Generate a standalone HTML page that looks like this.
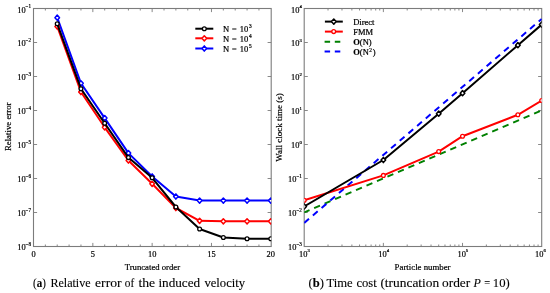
<!DOCTYPE html><html><head><meta charset="utf-8"><style>html,body{margin:0;padding:0;background:#fff;}svg{display:block;will-change:transform;filter:blur(0.3px);}text{font-family:"Liberation Serif",serif;fill:#000;}.t{stroke:#000;stroke-width:0.2px;}.c{stroke:#000;stroke-width:0.1px;}.l{stroke:#000;stroke-width:0.22px;}</style></head><body>
<svg width="550" height="293" viewBox="0 0 550 293">
<defs><clipPath id="cl"><rect x="33.50" y="8.50" width="237.70" height="238.00"/></clipPath>
<clipPath id="cr"><rect x="304.20" y="8.50" width="237.50" height="238.00"/></clipPath></defs>
<rect width="550" height="293" fill="#fff"/>
<path d="M45.37 246.50V244.50M45.37 8.50V10.50M57.23 246.50V244.50M57.23 8.50V10.50M69.09 246.50V244.50M69.09 8.50V10.50M80.96 246.50V244.50M80.96 8.50V10.50M92.83 246.50V242.90M92.83 8.50V12.10M104.69 246.50V244.50M104.69 8.50V10.50M116.56 246.50V244.50M116.56 8.50V10.50M128.42 246.50V244.50M128.42 8.50V10.50M140.28 246.50V244.50M140.28 8.50V10.50M152.15 246.50V242.90M152.15 8.50V12.10M164.02 246.50V244.50M164.02 8.50V10.50M175.88 246.50V244.50M175.88 8.50V10.50M187.75 246.50V244.50M187.75 8.50V10.50M199.61 246.50V244.50M199.61 8.50V10.50M211.47 246.50V242.90M211.47 8.50V12.10M223.34 246.50V244.50M223.34 8.50V10.50M235.21 246.50V244.50M235.21 8.50V10.50M247.07 246.50V244.50M247.07 8.50V10.50M258.94 246.50V244.50M258.94 8.50V10.50M33.50 42.50H37.10M271.20 42.50H267.60M33.50 76.50H37.10M271.20 76.50H267.60M33.50 110.50H37.10M271.20 110.50H267.60M33.50 144.50H37.10M271.20 144.50H267.60M33.50 178.50H37.10M271.20 178.50H267.60M33.50 212.50H37.10M271.20 212.50H267.60" stroke="#7c7c7c" stroke-width="0.9" fill="none"/>
<rect x="33.50" y="8.50" width="237.70" height="238.00" fill="none" stroke="#7c7c7c" stroke-width="1.1"/>
<text class="t" x="31" y="13.00" text-anchor="end" font-size="8.4">10<tspan font-size="5.1" dy="-4.7">&#8722;1</tspan></text>
<text class="t" x="31" y="46.30" text-anchor="end" font-size="8.4">10<tspan font-size="5.1" dy="-4.7">&#8722;2</tspan></text>
<text class="t" x="31" y="80.30" text-anchor="end" font-size="8.4">10<tspan font-size="5.1" dy="-4.7">&#8722;3</tspan></text>
<text class="t" x="31" y="114.30" text-anchor="end" font-size="8.4">10<tspan font-size="5.1" dy="-4.7">&#8722;4</tspan></text>
<text class="t" x="31" y="148.30" text-anchor="end" font-size="8.4">10<tspan font-size="5.1" dy="-4.7">&#8722;5</tspan></text>
<text class="t" x="31" y="182.30" text-anchor="end" font-size="8.4">10<tspan font-size="5.1" dy="-4.7">&#8722;6</tspan></text>
<text class="t" x="31" y="216.30" text-anchor="end" font-size="8.4">10<tspan font-size="5.1" dy="-4.7">&#8722;7</tspan></text>
<text class="t" x="31" y="250.30" text-anchor="end" font-size="8.4">10<tspan font-size="5.1" dy="-4.7">&#8722;8</tspan></text>
<text class="t" x="33.50" y="257.0" text-anchor="middle" font-size="8.4">0</text>
<text class="t" x="92.83" y="257.0" text-anchor="middle" font-size="8.4">5</text>
<text class="t" x="152.15" y="257.0" text-anchor="middle" font-size="8.4">10</text>
<text class="t" x="211.47" y="257.0" text-anchor="middle" font-size="8.4">15</text>
<text class="t" x="270.80" y="257.0" text-anchor="middle" font-size="8.4">20</text>
<text class="t" x="152.4" y="269.7" text-anchor="middle" font-size="8.7">Truncated order</text>
<text class="t" transform="translate(10.7 126.8) rotate(-90)" text-anchor="middle" font-size="8.8">Relative error</text>
<g clip-path="url(#cl)">
<polyline points="57.23,17.70 80.96,83.30 104.69,118.10 128.42,153.10 152.15,176.50 175.88,196.50 199.61,200.60 223.34,200.60 247.07,200.60 270.80,200.60" fill="none" stroke="#0000ff" stroke-width="2" stroke-linejoin="round"/>
<path d="M57.23 15.10L59.53 17.70L57.23 20.30L54.93 17.70Z" fill="#fff" stroke="#0000ff" stroke-width="1.5" stroke-linejoin="round"/>
<path d="M80.96 80.70L83.26 83.30L80.96 85.90L78.66 83.30Z" fill="#fff" stroke="#0000ff" stroke-width="1.5" stroke-linejoin="round"/>
<path d="M104.69 115.50L106.99 118.10L104.69 120.70L102.39 118.10Z" fill="#fff" stroke="#0000ff" stroke-width="1.5" stroke-linejoin="round"/>
<path d="M128.42 150.50L130.72 153.10L128.42 155.70L126.12 153.10Z" fill="#fff" stroke="#0000ff" stroke-width="1.5" stroke-linejoin="round"/>
<path d="M152.15 173.90L154.45 176.50L152.15 179.10L149.85 176.50Z" fill="#fff" stroke="#0000ff" stroke-width="1.5" stroke-linejoin="round"/>
<path d="M175.88 193.90L178.18 196.50L175.88 199.10L173.58 196.50Z" fill="#fff" stroke="#0000ff" stroke-width="1.5" stroke-linejoin="round"/>
<path d="M199.61 198.00L201.91 200.60L199.61 203.20L197.31 200.60Z" fill="#fff" stroke="#0000ff" stroke-width="1.5" stroke-linejoin="round"/>
<path d="M223.34 198.00L225.64 200.60L223.34 203.20L221.04 200.60Z" fill="#fff" stroke="#0000ff" stroke-width="1.5" stroke-linejoin="round"/>
<path d="M247.07 198.00L249.37 200.60L247.07 203.20L244.77 200.60Z" fill="#fff" stroke="#0000ff" stroke-width="1.5" stroke-linejoin="round"/>
<path d="M270.80 198.00L273.10 200.60L270.80 203.20L268.50 200.60Z" fill="#fff" stroke="#0000ff" stroke-width="1.5" stroke-linejoin="round"/>
<polyline points="57.23,26.50 80.96,92.00 104.69,127.30 128.42,160.50 152.15,183.80 175.88,208.00 199.61,220.80 223.34,221.30 247.07,221.30 270.80,221.30" fill="none" stroke="#ff0000" stroke-width="2" stroke-linejoin="round"/>
<path d="M57.23 23.90L59.53 26.50L57.23 29.10L54.93 26.50Z" fill="#fff" stroke="#ff0000" stroke-width="1.5" stroke-linejoin="round"/>
<path d="M80.96 89.40L83.26 92.00L80.96 94.60L78.66 92.00Z" fill="#fff" stroke="#ff0000" stroke-width="1.5" stroke-linejoin="round"/>
<path d="M104.69 124.70L106.99 127.30L104.69 129.90L102.39 127.30Z" fill="#fff" stroke="#ff0000" stroke-width="1.5" stroke-linejoin="round"/>
<path d="M128.42 157.90L130.72 160.50L128.42 163.10L126.12 160.50Z" fill="#fff" stroke="#ff0000" stroke-width="1.5" stroke-linejoin="round"/>
<path d="M152.15 181.20L154.45 183.80L152.15 186.40L149.85 183.80Z" fill="#fff" stroke="#ff0000" stroke-width="1.5" stroke-linejoin="round"/>
<path d="M175.88 205.40L178.18 208.00L175.88 210.60L173.58 208.00Z" fill="#fff" stroke="#ff0000" stroke-width="1.5" stroke-linejoin="round"/>
<path d="M199.61 218.20L201.91 220.80L199.61 223.40L197.31 220.80Z" fill="#fff" stroke="#ff0000" stroke-width="1.5" stroke-linejoin="round"/>
<path d="M223.34 218.70L225.64 221.30L223.34 223.90L221.04 221.30Z" fill="#fff" stroke="#ff0000" stroke-width="1.5" stroke-linejoin="round"/>
<path d="M247.07 218.70L249.37 221.30L247.07 223.90L244.77 221.30Z" fill="#fff" stroke="#ff0000" stroke-width="1.5" stroke-linejoin="round"/>
<path d="M270.80 218.70L273.10 221.30L270.80 223.90L268.50 221.30Z" fill="#fff" stroke="#ff0000" stroke-width="1.5" stroke-linejoin="round"/>
<polyline points="57.23,23.80 80.96,88.70 104.69,123.20 128.42,157.60 152.15,177.80 175.88,207.00 199.61,229.00 223.34,237.50 247.07,238.70 270.80,238.70" fill="none" stroke="#000000" stroke-width="2" stroke-linejoin="round"/>
<circle cx="57.23" cy="23.80" r="1.90" fill="#fff" stroke="#000000" stroke-width="1.3"/>
<circle cx="80.96" cy="88.70" r="1.90" fill="#fff" stroke="#000000" stroke-width="1.3"/>
<circle cx="104.69" cy="123.20" r="1.90" fill="#fff" stroke="#000000" stroke-width="1.3"/>
<circle cx="128.42" cy="157.60" r="1.90" fill="#fff" stroke="#000000" stroke-width="1.3"/>
<circle cx="152.15" cy="177.80" r="1.90" fill="#fff" stroke="#000000" stroke-width="1.3"/>
<circle cx="175.88" cy="207.00" r="1.90" fill="#fff" stroke="#000000" stroke-width="1.3"/>
<circle cx="199.61" cy="229.00" r="1.90" fill="#fff" stroke="#000000" stroke-width="1.3"/>
<circle cx="223.34" cy="237.50" r="1.90" fill="#fff" stroke="#000000" stroke-width="1.3"/>
<circle cx="247.07" cy="238.70" r="1.90" fill="#fff" stroke="#000000" stroke-width="1.3"/>
<circle cx="270.80" cy="238.70" r="1.90" fill="#fff" stroke="#000000" stroke-width="1.3"/>
</g>
<path d="M195.3 28.70H213.3" stroke="#000000" stroke-width="2"/>
<circle cx="204.30" cy="28.70" r="1.90" fill="#fff" stroke="#000000" stroke-width="1.3"/>
<text class="l" y="32.10" font-size="8.5"><tspan x="223.0">N</tspan><tspan x="231.8" font-size="9" stroke-width="0">=</tspan><tspan x="239.8">10</tspan><tspan x="248.9" font-size="5.3" dy="-3.7">3</tspan></text>
<path d="M195.3 38.30H213.3" stroke="#ff0000" stroke-width="2"/>
<path d="M204.30 35.70L206.60 38.30L204.30 40.90L202.00 38.30Z" fill="#fff" stroke="#ff0000" stroke-width="1.5" stroke-linejoin="round"/>
<text class="l" y="41.70" font-size="8.5"><tspan x="223.0">N</tspan><tspan x="231.8" font-size="9" stroke-width="0">=</tspan><tspan x="239.8">10</tspan><tspan x="248.9" font-size="5.3" dy="-3.7">4</tspan></text>
<path d="M195.3 48.50H213.3" stroke="#0000ff" stroke-width="2"/>
<path d="M204.30 45.90L206.60 48.50L204.30 51.10L202.00 48.50Z" fill="#fff" stroke="#0000ff" stroke-width="1.5" stroke-linejoin="round"/>
<text class="l" y="51.90" font-size="8.5"><tspan x="223.0">N</tspan><tspan x="231.8" font-size="9" stroke-width="0">=</tspan><tspan x="239.8">10</tspan><tspan x="248.9" font-size="5.3" dy="-3.7">5</tspan></text>
<path d="M328.03 246.50V244.50M328.03 8.50V10.50M341.97 246.50V244.50M341.97 8.50V10.50M351.86 246.50V244.50M351.86 8.50V10.50M359.54 246.50V244.50M359.54 8.50V10.50M365.80 246.50V244.50M365.80 8.50V10.50M371.10 246.50V244.50M371.10 8.50V10.50M375.69 246.50V244.50M375.69 8.50V10.50M379.74 246.50V244.50M379.74 8.50V10.50M383.37 246.50V242.90M383.37 8.50V12.10M407.20 246.50V244.50M407.20 8.50V10.50M421.14 246.50V244.50M421.14 8.50V10.50M431.03 246.50V244.50M431.03 8.50V10.50M438.70 246.50V244.50M438.70 8.50V10.50M444.97 246.50V244.50M444.97 8.50V10.50M450.27 246.50V244.50M450.27 8.50V10.50M454.86 246.50V244.50M454.86 8.50V10.50M458.91 246.50V244.50M458.91 8.50V10.50M462.53 246.50V242.90M462.53 8.50V12.10M486.36 246.50V244.50M486.36 8.50V10.50M500.31 246.50V244.50M500.31 8.50V10.50M510.20 246.50V244.50M510.20 8.50V10.50M517.87 246.50V244.50M517.87 8.50V10.50M524.14 246.50V244.50M524.14 8.50V10.50M529.44 246.50V244.50M529.44 8.50V10.50M534.03 246.50V244.50M534.03 8.50V10.50M538.08 246.50V244.50M538.08 8.50V10.50M304.20 42.50H307.80M541.70 42.50H538.10M304.20 76.50H307.80M541.70 76.50H538.10M304.20 110.50H307.80M541.70 110.50H538.10M304.20 144.50H307.80M541.70 144.50H538.10M304.20 178.50H307.80M541.70 178.50H538.10M304.20 212.50H307.80M541.70 212.50H538.10" stroke="#7c7c7c" stroke-width="0.9" fill="none"/>
<rect x="304.20" y="8.50" width="237.50" height="238.00" fill="none" stroke="#7c7c7c" stroke-width="1.1"/>
<text class="t" x="301.8" y="13.00" text-anchor="end" font-size="8.4">10<tspan font-size="4.8" dy="-4.7">4</tspan></text>
<text class="t" x="301.8" y="46.30" text-anchor="end" font-size="8.4">10<tspan font-size="4.8" dy="-4.7">3</tspan></text>
<text class="t" x="301.8" y="80.30" text-anchor="end" font-size="8.4">10<tspan font-size="4.8" dy="-4.7">2</tspan></text>
<text class="t" x="301.8" y="114.30" text-anchor="end" font-size="8.4">10<tspan font-size="4.8" dy="-4.7">1</tspan></text>
<text class="t" x="301.8" y="148.30" text-anchor="end" font-size="8.4">10<tspan font-size="4.8" dy="-4.7">0</tspan></text>
<text class="t" x="301.8" y="182.30" text-anchor="end" font-size="8.4">10<tspan font-size="5.1" dy="-4.7">&#8722;1</tspan></text>
<text class="t" x="301.8" y="216.30" text-anchor="end" font-size="8.4">10<tspan font-size="5.1" dy="-4.7">&#8722;2</tspan></text>
<text class="t" x="301.8" y="250.30" text-anchor="end" font-size="8.4">10<tspan font-size="5.1" dy="-4.7">&#8722;3</tspan></text>
<text class="t" x="304.50" y="257.0" text-anchor="middle" font-size="8.4">10<tspan font-size="4.8" dy="-4.7">3</tspan></text>
<text class="t" x="383.67" y="257.0" text-anchor="middle" font-size="8.4">10<tspan font-size="4.8" dy="-4.7">4</tspan></text>
<text class="t" x="462.83" y="257.0" text-anchor="middle" font-size="8.4">10<tspan font-size="4.8" dy="-4.7">5</tspan></text>
<text class="t" x="540.50" y="257.0" text-anchor="middle" font-size="8.4">10<tspan font-size="4.8" dy="-4.7">6</tspan></text>
<text class="t" x="422.6" y="269.8" text-anchor="middle" font-size="8.8">Particle number</text>
<text class="t" transform="translate(281.5 127.4) rotate(-90)" text-anchor="middle" font-size="9">Wall clock time (s)</text>
<g clip-path="url(#cr)">
<path d="M304.20 212.40L541.70 110.40" stroke="#008000" stroke-width="2" stroke-dasharray="6.4 5.0" stroke-dashoffset="0.6"/>
<path d="M304.20 222.90L541.70 18.90" stroke="#0000ff" stroke-width="2" stroke-dasharray="6.3 5.15"/>
<polyline points="304.20,200.20 383.37,175.40 438.70,151.60 462.53,136.20 517.87,114.80 541.70,100.50" fill="none" stroke="#ff0000" stroke-width="2" stroke-linejoin="round"/>
<circle cx="304.20" cy="200.20" r="1.90" fill="#fff" stroke="#ff0000" stroke-width="1.3"/>
<circle cx="383.37" cy="175.40" r="1.90" fill="#fff" stroke="#ff0000" stroke-width="1.3"/>
<circle cx="438.70" cy="151.60" r="1.90" fill="#fff" stroke="#ff0000" stroke-width="1.3"/>
<circle cx="462.53" cy="136.20" r="1.90" fill="#fff" stroke="#ff0000" stroke-width="1.3"/>
<circle cx="517.87" cy="114.80" r="1.90" fill="#fff" stroke="#ff0000" stroke-width="1.3"/>
<circle cx="541.70" cy="100.50" r="1.90" fill="#fff" stroke="#ff0000" stroke-width="1.3"/>
<polyline points="304.20,206.50 383.37,160.00 438.70,113.70 462.53,93.20 517.87,45.20 541.70,24.60" fill="none" stroke="#000000" stroke-width="2" stroke-linejoin="round"/>
<path d="M304.20 203.90L306.50 206.50L304.20 209.10L301.90 206.50Z" fill="#fff" stroke="#000000" stroke-width="1.5" stroke-linejoin="round"/>
<path d="M383.37 157.40L385.67 160.00L383.37 162.60L381.07 160.00Z" fill="#fff" stroke="#000000" stroke-width="1.5" stroke-linejoin="round"/>
<path d="M438.70 111.10L441.00 113.70L438.70 116.30L436.40 113.70Z" fill="#fff" stroke="#000000" stroke-width="1.5" stroke-linejoin="round"/>
<path d="M462.53 90.60L464.83 93.20L462.53 95.80L460.23 93.20Z" fill="#fff" stroke="#000000" stroke-width="1.5" stroke-linejoin="round"/>
<path d="M517.87 42.60L520.17 45.20L517.87 47.80L515.57 45.20Z" fill="#fff" stroke="#000000" stroke-width="1.5" stroke-linejoin="round"/>
<path d="M541.70 22.00L544.00 24.60L541.70 27.20L539.40 24.60Z" fill="#fff" stroke="#000000" stroke-width="1.5" stroke-linejoin="round"/>
</g>
<path d="M324.9 21.60H342.8" stroke="#000" stroke-width="2"/>
<path d="M333.80 19.00L336.10 21.60L333.80 24.20L331.50 21.60Z" fill="#fff" stroke="#000000" stroke-width="1.5" stroke-linejoin="round"/>
<text class="l" x="353.2" y="24.70" font-size="8.5">Direct</text>
<path d="M324.9 31.60H342.8" stroke="#f00" stroke-width="2"/>
<circle cx="333.70" cy="31.60" r="1.90" fill="#fff" stroke="#ff0000" stroke-width="1.3"/>
<text class="l" x="353.2" y="34.80" font-size="8.5">FMM</text>
<path d="M324.6 41.70H341.2" stroke="#008000" stroke-width="2" stroke-dasharray="5.5 4.7"/>
<text class="l" x="353.2" y="45.00" font-size="8.5"><tspan font-weight="bold">O</tspan>(N)</text>
<path d="M324.6 51.40H341.2" stroke="#00f" stroke-width="2" stroke-dasharray="5.5 4.7"/>
<text class="l" x="353.2" y="54.70" font-size="8.5"><tspan font-weight="bold">O</tspan>(N<tspan font-size="5.3" dx="0.4" dy="-2.6">2</tspan><tspan dx="0.8" dy="2.6">)</tspan></text>
<text class="c" x="33.00" y="287.00" font-size="12" textLength="12.80" lengthAdjust="spacingAndGlyphs">(<tspan font-weight="bold">a</tspan>)</text>
<text class="c" x="50.40" y="287.00" font-size="12" textLength="40.20" lengthAdjust="spacingAndGlyphs">Relative</text>
<text class="c" x="95.00" y="287.00" font-size="12" textLength="26.60" lengthAdjust="spacingAndGlyphs">error</text>
<text class="c" x="124.80" y="287.00" font-size="12" textLength="9.40" lengthAdjust="spacingAndGlyphs">of</text>
<text class="c" x="138.40" y="287.00" font-size="12" textLength="16.80" lengthAdjust="spacingAndGlyphs">the</text>
<text class="c" x="158.40" y="287.00" font-size="12" textLength="41.80" lengthAdjust="spacingAndGlyphs">induced</text>
<text class="c" x="204.40" y="287.00" font-size="12" textLength="40.80" lengthAdjust="spacingAndGlyphs">velocity</text>
<text class="c" x="308.60" y="287.00" font-size="12" textLength="15.40" lengthAdjust="spacingAndGlyphs">(<tspan font-weight="bold">b</tspan>)</text>
<text class="c" x="326.40" y="287.00" font-size="12" textLength="26.30" lengthAdjust="spacingAndGlyphs">Time</text>
<text class="c" x="356.40" y="287.00" font-size="12" textLength="20.30" lengthAdjust="spacingAndGlyphs">cost</text>
<text class="c" x="380.40" y="287.00" font-size="12" textLength="58.80" lengthAdjust="spacingAndGlyphs">(truncation</text>
<text class="c" x="442.00" y="287.00" font-size="12" textLength="28.20" lengthAdjust="spacingAndGlyphs">order</text>
<text class="c" x="473.6" y="287.00" font-size="12" font-style="italic">P</text>
<text class="c" x="484.30" y="287.00" font-size="12" textLength="5.90" lengthAdjust="spacingAndGlyphs">=</text>
<text class="c" x="492.80" y="287.00" font-size="12" textLength="16.90" lengthAdjust="spacingAndGlyphs">10)</text>
</svg></body></html>
